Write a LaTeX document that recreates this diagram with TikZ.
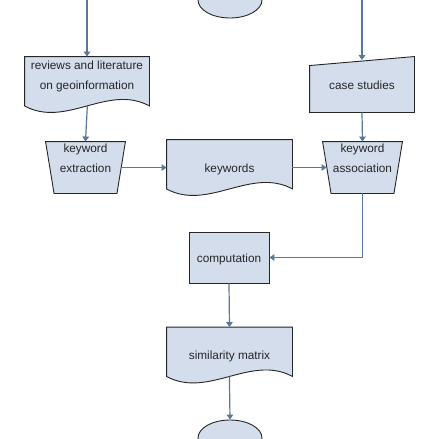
\documentclass[tikz,border=0pt]{standalone}
\usepackage{fontspec}
\setmainfont{Liberation Sans}
\usetikzlibrary{shapes.geometric,arrows.meta,backgrounds}
\definecolor{boxfill}{RGB}{212,221,236}
\definecolor{boxline}{RGB}{38,38,38}
\definecolor{flowline}{RGB}{88,118,158}
\tikzset{
  box/.style={draw=boxline, fill=boxfill, line width=0.9pt, inner sep=2pt,
    font=\fontsize{11.8}{20}\selectfont, text=black!85, align=center,
    text height=10pt, text depth=1pt},
  term/.style={box, ellipse, minimum width=64pt, minimum height=36pt},
  procbox/.style={box, rectangle, minimum width=80pt, minimum height=51pt},
  trap/.style={box, draw=none, fill=none, minimum width=79pt, minimum height=51pt},
  doc/.style={box, draw=none, fill=none, minimum width=#1, minimum height=55pt},
  manual/.style={box, draw=none, fill=none, minimum width=104pt, minimum height=55pt},
  docline/.style={draw=boxline, fill=boxfill, line width=0.9pt},
  flow/.style={draw=flowline, line width=1.2pt, -{Triangle[length=5pt,width=6.5pt]}},
  fromdoc/.style={flow, shorten <=-6.5pt}
}
\begin{document}
\begin{tikzpicture}[x=1pt, y=-1pt]
  \useasboundingbox (0,0) rectangle (439,439);
  \clip (0,0) rectangle (439,439);
  % shapes
  \node[term] (start) at (230,0) {};
  \node[doc=124pt] (lit) at (87,84.5) {reviews and literature\\on geoinformation};
  \node[manual] (cases) at (362,84.5) {case studies};
  \node[trap] (extract) at (85.5,167.5) {keyword\\extraction};
  \node[doc=125pt] (keywords) at (229.5,167.5) {keywords};
  \node[trap] (assoc) at (362.5,167.5) {keyword\\association};
  \node[procbox] (comp) at (229,257.5) {computation};
  \node[doc=125pt] (simil) at (229.5,355) {similarity matrix};
  \node[term] (end) at (230,438) {};
  \coordinate (inL) at (87,0);
  \coordinate (inR) at (362,0);
  % outlines of document, manual input and manual operation
  \begin{scope}[on background layer]
    \foreach \n in {lit,keywords,simil}
      \filldraw[docline] (\n.north west) -- (\n.north east)
        -- ([yshift=6.5pt]\n.south east)
        .. controls +(-41.5,-22.5) and +(41.5,22.5) .. ([yshift=6.5pt]\n.south west)
        -- cycle;
    \foreach \n in {extract,assoc}
      \filldraw[docline] (\n.north west) -- (\n.north east)
        -- ([xshift=-8.5pt]\n.south east) -- ([xshift=8.5pt]\n.south west) -- cycle;
    \filldraw[docline] ([yshift=-9pt]cases.north west) -- (cases.north east)
      -- (cases.south east) -- (cases.south west) -- cycle;
  \end{scope}
  % connectors
  \draw[flow] (inL) -- (lit.north);
  \draw[flow, shorten >=-3.5pt] (inR) -- (cases.north);
  \draw[fromdoc] (lit.south) -- (extract.north);
  \draw[flow, shorten <=-4.5pt] (extract.east) -- (keywords.west);
  \draw[flow, shorten >=-4pt] (keywords.east) -- (assoc.west);
  \draw[flow] (cases.south) -- (assoc.north);
  \draw[flow] (assoc.south) |- (comp.east);
  \draw[flow] (comp.south) -- (simil.north);
  \draw[fromdoc] (simil.south) -- (end.north);
\end{tikzpicture}
\end{document}
